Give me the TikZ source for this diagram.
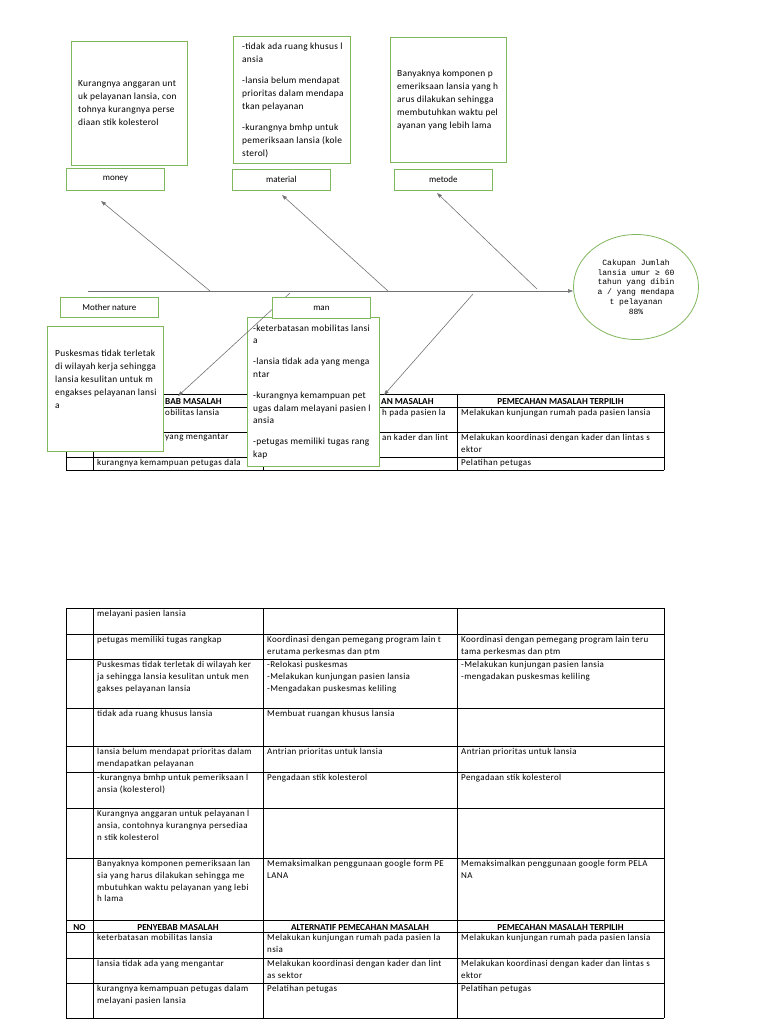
\documentclass[tikz,border=0pt]{standalone}
\usepackage{fontspec}
\setmainfont{Carlito}
\newfontfamily\goalfont{Liberation Mono}
\usepackage{xcolor}
\usetikzlibrary{arrows.meta, positioning, shapes.geometric}
\definecolor{boxgreen}{RGB}{128,182,92}
\newcommand{\descfont}{\fontsize{9.4}{13}\selectfont\addfontfeature{LetterSpace=3}}
\newcommand{\catfont}{\fontsize{9}{11}\selectfont}
\newcommand{\tabfont}{\fontsize{9}{11.8}\selectfont\addfontfeature{LetterSpace=4}}

\begin{document}
\begin{tikzpicture}[x=1pt, y=-1pt,
  descbox/.style={draw=boxgreen, fill=white, line width=0.8pt, anchor=north west, inner sep=0pt},
  desctext/.style={anchor=west, inner sep=0pt, align=left, font=\descfont},
  catbox/.style={draw=boxgreen, fill=white, line width=0.8pt, anchor=north west,
                 minimum width=98pt, minimum height=21pt, inner sep=0pt, font=\catfont},
  cell/.style={anchor=north west, inner sep=0pt, align=left, font=\tabfont},
  head/.style={anchor=base, inner sep=0pt, font=\fontsize{9.2}{11}\selectfont\bfseries},
  arrow/.style={-{Triangle[length=5pt, width=3.5pt]}, draw=black!55, line width=0.6pt},
  tabline/.style={draw=black, line width=0.8pt}
]
  \useasboundingbox (0,0) rectangle (768,1024);
  % tabel atas (tertutup sebagian oleh kotak)
  \foreach \x in {66,93,263,457,664} \draw[tabline] (\x,394) -- (\x,470);
  \foreach \y in {394,407,432,457,470} \draw[tabline] (66,\y) -- (664,\y);
  \node[head, anchor=base west] (t1h2) at (165,404) {BAB MASALAH};
  \node[head, anchor=base west] (t1h3) at (381,404) {AN MASALAH};
  \node[head] (t1h4) at (560.5,404) {PEMECAHAN MASALAH TERPILIH};
  \node[cell] (t1r1c2) at (165,409) {obilitas lansia};
  \node[cell] (t1r1c3) at (382,409) {h pada pasien la};
  \node[cell] (t1r1c4) at (461,409) {Melakukan kunjungan rumah pada pasien lansia};
  \node[cell] (t1r2c2) at (165,434) {yang mengantar};
  \node[cell] (t1r2c3) at (382,434) {an kader dan lint};
  \node[cell] (t1r2c4) at (461,434) {Melakukan koordinasi dengan kader dan lintas s\\ektor};
  \node[cell] (t1r3c2) at (97,459) {kurangnya kemampuan petugas dala};
  \node[cell] (t1r3c4) at (461,459) {Pelatihan petugas};

  % tabel bawah
  \foreach \x in {66,93,263,457,664} \draw[tabline] (\x,608) -- (\x,1018);
  \foreach \y in {608,634,659,708,746,772,808,858,920,932,958,983,1018}
    \draw[tabline] (66,\y) -- (664,\y);
  \node[cell] (t2r1c2) at (97,610) {melayani pasien lansia};
  \node[cell] (t2r2c2) at (97,636) {petugas memiliki tugas rangkap};
  \node[cell] (t2r2c3) at (267,636) {Koordinasi dengan pemegang program lain t\\erutama perkesmas dan ptm};
  \node[cell] (t2r2c4) at (461,636) {Koordinasi dengan pemegang program lain teru\\tama perkesmas dan ptm};
  \node[cell] (t2r3c2) at (97,661) {Puskesmas tidak terletak di wilayah ker\\ja sehingga lansia kesulitan untuk men\\gakses pelayanan lansia};
  \node[cell] (t2r3c3) at (267,661) {-Relokasi puskesmas\\-Melakukan kunjungan pasien lansia\\-Mengadakan puskesmas keliling};
  \node[cell] (t2r3c4) at (461,661) {-Melakukan kunjungan pasien lansia\\-mengadakan puskesmas keliling};
  \node[cell] (t2r4c2) at (97,710) {tidak ada ruang khusus lansia};
  \node[cell] (t2r4c3) at (267,710) {Membuat ruangan khusus lansia};
  \node[cell] (t2r5c2) at (97,748) {lansia belum mendapat prioritas dalam\\mendapatkan pelayanan};
  \node[cell] (t2r5c3) at (267,748) {Antrian prioritas untuk lansia};
  \node[cell] (t2r5c4) at (461,748) {Antrian prioritas untuk lansia};
  \node[cell] (t2r6c2) at (97,774) {-kurangnya bmhp untuk pemeriksaan l\\ansia (kolesterol)};
  \node[cell] (t2r6c3) at (267,774) {Pengadaan stik kolesterol};
  \node[cell] (t2r6c4) at (461,774) {Pengadaan stik kolesterol};
  \node[cell] (t2r7c2) at (97,810) {Kurangnya anggaran untuk pelayanan l\\ansia, contohnya kurangnya persediaa\\n stik kolesterol};
  \node[cell] (t2r8c2) at (97,860) {Banyaknya komponen pemeriksaan lan\\sia yang harus dilakukan sehingga me\\mbutuhkan waktu pelayanan yang lebi\\h lama};
  \node[cell] (t2r8c3) at (267,860) {Memaksimalkan penggunaan google form PE\\LANA};
  \node[cell] (t2r8c4) at (461,860) {Memaksimalkan penggunaan google form PELA\\NA};
  \node[head] (t2h1) at (79.5,930) {NO};
  \node[head] (t2h2) at (178,930) {PENYEBAB MASALAH};
  \node[head] (t2h3) at (360,930) {ALTERNATIF PEMECAHAN MASALAH};
  \node[head] (t2h4) at (560.5,930) {PEMECAHAN MASALAH TERPILIH};
  \node[cell] (t2r10c2) at (97,934) {keterbatasan mobilitas lansia};
  \node[cell] (t2r10c3) at (267,934) {Melakukan kunjungan rumah pada pasien la\\nsia};
  \node[cell] (t2r10c4) at (461,934) {Melakukan kunjungan rumah pada pasien lansia};
  \node[cell] (t2r11c2) at (97,960) {lansia tidak ada yang mengantar};
  \node[cell] (t2r11c3) at (267,960) {Melakukan koordinasi dengan kader dan lint\\as sektor};
  \node[cell] (t2r11c4) at (461,960) {Melakukan koordinasi dengan kader dan lintas s\\ektor};
  \node[cell] (t2r12c2) at (97,985) {kurangnya kemampuan petugas dalam\\melayani pasien lansia};
  \node[cell] (t2r12c3) at (267,985) {Pelatihan petugas};
  \node[cell] (t2r12c4) at (461,985) {Pelatihan petugas};

  % kotak penyebab
  \node[descbox, minimum width=116pt, minimum height=124pt] (moneyDesc) at (71,41) {};
  \node[desctext, right=7pt of moneyDesc.west] (moneyText)
    {Kurangnya anggaran unt\\uk pelayanan lansia, con\\tohnya kurangnya perse\\diaan stik kolesterol};
  \node[descbox, minimum width=117pt, minimum height=127pt] (materialDesc) at (233,36) {};
  \node[desctext, right=9pt of materialDesc.west] (materialText)
    {-tidak ada ruang khusus l\\ansia\\[8pt]-lansia belum mendapat\\prioritas dalam mendapa\\tkan pelayanan\\[8pt]-kurangnya bmhp untuk\\pemeriksaan lansia (kole\\sterol)};
  \node[descbox, minimum width=116pt, minimum height=125pt] (metodeDesc) at (390,37) {};
  \node[desctext, right=7pt of metodeDesc.west] (metodeText)
    {Banyaknya komponen p\\emeriksaan lansia yang h\\arus dilakukan sehingga\\membutuhkan waktu pel\\ayanan yang lebih lama};
  \node[descbox, minimum width=116pt, minimum height=125pt] (natureDesc) at (47,326) {};
  \node[desctext, right=8pt of natureDesc.west, yshift=9.5pt] (natureText)
    {Puskesmas tidak terletak\\di wilayah kerja sehingga\\lansia kesulitan untuk m\\engakses pelayanan lansi\\a};
  \node[descbox, minimum width=132pt, minimum height=149pt] (manDesc) at (247,317) {};
  \node[desctext, right=6pt of manDesc.west, font=\descfont\fontsize{9.4}{12.6}\selectfont] (manText)
    {-keterbatasan mobilitas lansi\\a\\[8.5pt]-lansia tidak ada yang menga\\ntar\\[8.5pt]-kurangnya kemampuan pet\\ugas dalam melayani pasien l\\ansia\\[8.5pt]-petugas memiliki tugas rang\\kap};

  % tujuan
  \node[ellipse, draw=boxgreen, line width=0.8pt, minimum width=125pt, minimum height=105pt,
        align=center, inner sep=0pt, font=\goalfont\fontsize{8}{9.8}\selectfont] (goal) at (636,287)
    {Cakupan Jumlah\\lansia umur ≥ 60\\tahun yang dibin\\a / yang mendapa\\t pelayanan\\88\%};

  % tulang ikan
  \coordinate (spineL) at (88,291);
  \coordinate (moneyRoot) at (210,291);
  \coordinate (materialRoot) at (388,291);
  \coordinate (metodeRoot) at (537,289);
  \coordinate (natureRoot) at (290,293);
  \coordinate (manRoot) at (473,294);
  \coordinate (moneyTip) at (101,201);
  \coordinate (materialTip) at (282,195);
  \coordinate (metodeTip) at (437,193);
  \coordinate (natureTip) at (178,396);
  \coordinate (manTip) at (384,395);
  \draw[arrow] (spineL) -- (spineL -| goal.west);
  \draw[arrow] (moneyRoot) -- (moneyTip);
  \draw[arrow] (materialRoot) -- (materialTip);
  \draw[arrow] (metodeRoot) -- (metodeTip);
  \draw[arrow] (natureRoot) -- (natureTip);
  \draw[arrow] (manRoot) -- (manTip);

  % label kategori
  \node[catbox, minimum height=22pt] (money) at (66,168) {money};
  \node[catbox] (material) at (232,169) {material};
  \node[catbox] (metode) at (394,169) {metode};
  \node[catbox, minimum height=20pt] (nature) at (60,297) {Mother nature};
  \node[catbox] (man) at (272,297) {man};
\end{tikzpicture}
\end{document}
